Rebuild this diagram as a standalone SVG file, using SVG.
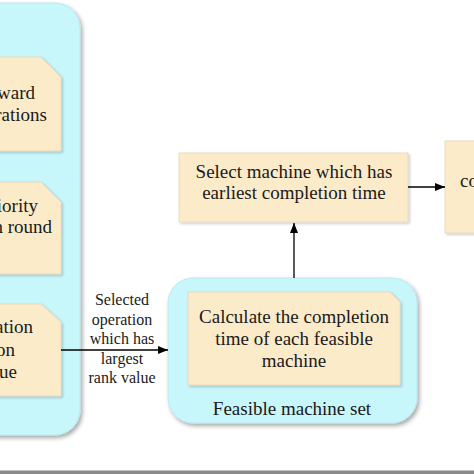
<svg xmlns="http://www.w3.org/2000/svg" width="474" height="474" viewBox="0 0 474 474">
<defs>
<style>
.cont{fill:#c7f6fb;stroke:#b5e6ec;stroke-width:0.8}
.box{fill:#fcebc9;stroke:#e4d6bb;stroke-width:0.8}
.t{font-family:"Liberation Serif","Times New Roman",serif;font-size:19px;fill:#1a1a1a}
.lbl{font-family:"Liberation Serif","Times New Roman",serif;font-size:16px;fill:#1a1a1a;text-anchor:middle}
.c{text-anchor:middle}
.e{text-anchor:end}
.conn{stroke:#000;stroke-width:1.3;fill:none}
</style>
<filter id="sh" x="-10%" y="-10%" width="130%" height="130%">
<feDropShadow dx="2" dy="2.5" stdDeviation="2" flood-color="#000" flood-opacity="0.35"/>
</filter>
<filter id="sh2" x="-10%" y="-10%" width="130%" height="130%">
<feDropShadow dx="1.5" dy="1.5" stdDeviation="1.2" flood-color="#000" flood-opacity="0.2"/>
</filter>
<marker id="ah" viewBox="0 0 10 8" refX="10" refY="4" markerWidth="10" markerHeight="8" markerUnits="userSpaceOnUse" orient="auto">
<path d="M0,0 L10,4 L0,8 Z" fill="#000"/>
</marker>
</defs>
<rect x="0" y="0" width="474" height="474" fill="#fff"/>

<g id="left-container">
<rect class="cont" x="-60" y="3" width="140" height="432" rx="25" ry="25" filter="url(#sh)"/>
</g>
<g id="left-box-1">
<path class="box" d="M-20,57 H41 L61,77 V151 H-20 Z" filter="url(#sh2)"/>
<text class="t e" x="35" y="99">ward</text>
<text class="t e" x="47" y="121">rations</text>
</g>
<g id="left-box-2">
<path class="box" d="M-20,182 H41 L61,202 V274 H-20 Z" filter="url(#sh2)"/>
<text class="t e" x="38" y="212">iority</text>
<text class="t e" x="52" y="233">n round</text>
</g>
<g id="left-box-3">
<path class="box" d="M-20,304 H41 L61,322 V396 H-20 Z" filter="url(#sh2)"/>
<text class="t e" x="33" y="333">ation</text>
<text class="t e" x="15" y="356">on</text>
<text class="t e" x="17" y="378">ue</text>
</g>

<g id="feasible-machine-set">
<rect class="cont" x="168" y="278" width="249" height="145" rx="25" ry="25" filter="url(#sh)"/>
<text class="t c" x="292" y="415">Feasible machine set</text>
</g>
<g id="calculate-box">
<path class="box" d="M188,292 H390 L400,302 V385 H188 Z" filter="url(#sh2)"/>
<text class="t c" x="294" y="323">Calculate the completion</text>
<text class="t c" x="294" y="345">time of each feasible</text>
<text class="t c" x="294" y="367">machine</text>
</g>
<g id="select-box">
<rect class="box" x="179" y="153" width="229" height="69" filter="url(#sh2)"/>
<text class="t c" x="294" y="178">Select machine which has</text>
<text class="t c" x="294" y="199">earliest completion time</text>
</g>
<g id="right-box">
<rect class="box" x="445" y="141" width="40" height="92" filter="url(#sh2)"/>
<text class="t" x="460" y="187">co</text>
</g>

<g id="connectors">
<line class="conn" x1="61" y1="350" x2="168" y2="350" marker-end="url(#ah)"/>
<line class="conn" x1="294" y1="278" x2="294" y2="223" marker-end="url(#ah)"/>
<line class="conn" x1="408" y1="187" x2="445" y2="187" marker-end="url(#ah)"/>
<g id="connector-label">
<text class="lbl" x="122" y="305">Selected</text>
<text class="lbl" x="122" y="324.5">operation</text>
<text class="lbl" x="122" y="344">which has</text>
<text class="lbl" x="122" y="363.5">largest</text>
<text class="lbl" x="122" y="383">rank value</text>
</g>
</g>

<rect x="0" y="470.5" width="474" height="3.5" fill="#8a8a8a"/>
</svg>
